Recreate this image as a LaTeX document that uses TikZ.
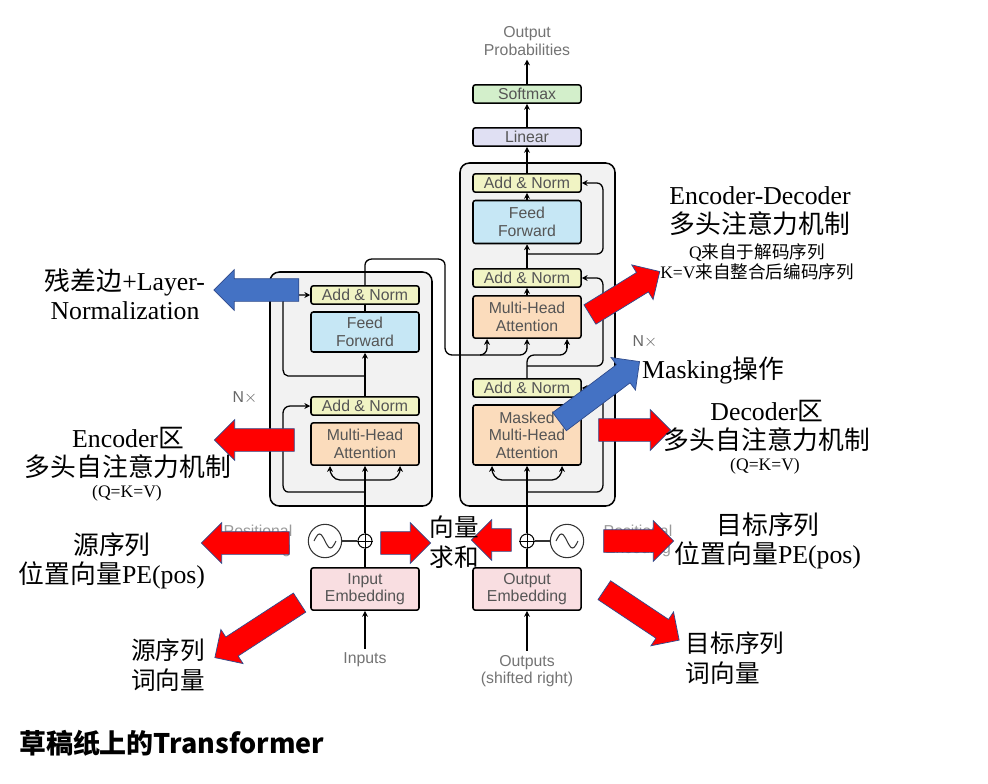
\documentclass[tikz,border=0pt]{standalone}
\usepackage{fontspec}
\setmainfont{Liberation Serif}
\newfontfamily\dsans{Liberation Sans}
\newfontfamily\cjk{Noto Sans CJK SC}
\usetikzlibrary{shapes.arrows,arrows.meta,calc}
\definecolor{an}{HTML}{F1F4C4}
\definecolor{ff}{HTML}{C6E7F5}
\definecolor{mh}{HTML}{FBDCBC}
\definecolor{em}{HTML}{F9DEE1}
\definecolor{li}{HTML}{E0E0F3}
\definecolor{sm}{HTML}{D3EFCB}
\definecolor{bg}{HTML}{F2F2F2}
\definecolor{ared}{HTML}{FF0000}
\definecolor{ablue}{HTML}{4472C4}
\definecolor{aout}{HTML}{2F4B8C}
\definecolor{tx}{HTML}{555555}
\begin{document}
\begin{tikzpicture}[x=0.03cm,y=-0.03cm,
 blk/.style={draw=black,line width=1.3pt,rounded corners=2pt,minimum width=3.24cm,inner sep=0,font=\dsans\fontsize{13.5}{15}\selectfont,text=tx,align=center},
 thin/.style={blk,minimum height=0.55cm},
 big/.style={blk,minimum height=1.27cm},
 frame/.style={draw=black,line width=1.3pt,fill=bg,rounded corners=8pt},
 conn/.style={line width=1.1pt,-{Stealth[length=5pt,width=5pt]}},
 line/.style={line width=1.1pt},
 barr/.style={single arrow,draw=aout,line width=0.6pt,inner xsep=0pt,inner ysep=0.33cm,single arrow head extend=0.27cm,single arrow head indent=0pt},
 red/.style={barr,fill=ared},
 blue/.style={barr,fill=ablue},
 lab/.style={font=\fontsize{22}{25}\selectfont,align=center},
 sml/.style={font=\fontsize{15}{17}\selectfont,align=center},
 gry/.style={font=\dsans\fontsize{13.5}{15}\selectfont,text=tx,align=center}]
\useasboundingbox (0,0) rectangle (988,783);
% frames
\draw[frame] (270,272) rectangle (432,506);
\draw[frame] (460,163) rectangle (615,506);
% encoder
\node[thin,fill=an] (ean2) at (365,295) {Add \& Norm};
\node[big,fill=ff,minimum height=1.2cm] (eff) at (365,332) {Feed\\Forward};
\node[thin,fill=an] (ean1) at (365,406) {Add \& Norm};
\node[big,fill=mh] (emh) at (365,444) {Multi-Head\\Attention};
% decoder
\node[thin,fill=an] (dan3) at (527,183) {Add \& Norm};
\node[big,fill=ff,minimum height=1.29cm] (dff) at (527,222) {Feed\\Forward};
\node[thin,fill=an] (dan2) at (527,278) {Add \& Norm};
\node[big,fill=mh] (dmh) at (527,317) {Multi-Head\\Attention};
\node[thin,fill=an] (dan1) at (527,388) {Add \& Norm};
\node[big,fill=mh,minimum height=1.8cm] (dmm) at (527,435) {Masked\\Multi-Head\\Attention};
\node[thin,fill=li] (lin) at (527,137) {Linear};
\node[thin,fill=sm] (soft) at (527,94) {Softmax};
\node[gry,text=black!55] (oprob) at (527,41) {Output\\Probabilities};
% embeddings
\node[big,fill=em] (iemb) at (365,589) {Input\\Embedding};
\node[big,fill=em] (oemb) at (527,589) {Output\\Embedding};
\node[gry,text=black!55] (inp) at (365,660) {Inputs};
\node[gry,text=black!55] (outp) at (527,671) {Outputs\\(shifted right)};
\node[draw=black,line width=0.9pt,circle,minimum size=0.42cm,inner sep=0,fill=white] (eplus) at (365,541) {};
\draw[line width=0.8pt] (eplus.north)--(eplus.south) (eplus.west)--(eplus.east);
\node[draw=black,line width=0.9pt,circle,minimum size=0.42cm,inner sep=0,fill=white] (dplus) at (527,541) {};
\draw[line width=0.8pt] (dplus.north)--(dplus.south) (dplus.west)--(dplus.east);
\node[draw=black!80,line width=0.9pt,circle,minimum size=1.0cm,inner sep=0] (esin) at (325,541) {};
\draw[line width=0.9pt,black!80] ($(esin.center)+(-11,0)$) sin ($(esin.center)+(-5.5,-7)$) cos ($(esin.center)+(0,0)$) sin ($(esin.center)+(5.5,7)$) cos ($(esin.center)+(11,0)$);
\node[draw=black!80,line width=0.9pt,circle,minimum size=1.0cm,inner sep=0] (dsin) at (567,541) {};
\draw[line width=0.9pt,black!80] ($(dsin.center)+(-11,0)$) sin ($(dsin.center)+(-5.5,-7)$) cos ($(dsin.center)+(0,0)$) sin ($(dsin.center)+(5.5,7)$) cos ($(dsin.center)+(11,0)$);
\draw[line,black!80] (esin)--(eplus);
\draw[line,black!80] (dsin)--(dplus);
\node[gry,text=black!40] (epe) at (258,541) {Positional\\Encoding};
\node[gry,text=black!40] (dpe) at (638,541) {Positional\\Encoding};
\node[gry,text=black!60] (enx) at (245,398) {N$\times$};
\node[gry,text=black!60] (dnx) at (645,342) {N$\times$};
% encoder connectors
\draw[conn] (inp.north)--(iemb.south);
\draw[line] (iemb.north)--(eplus.south);
\draw[conn] (eplus.north)--(emh.south);
\draw[conn] (365,480) -- (340,480) to[out=180,in=-90] (330,466);
\draw[conn] (365,480) -- (390,480) to[out=0,in=-90] (400,466);
\draw[conn] (365,492) -- (288,492) to[out=180,in=-90] (283,485) -- (283,413) to[out=90,in=180] (290,406) -- (ean1.west);
\draw[conn] (ean1.north)--(eff.south);
\draw[conn] (365,376) -- (288,376) to[out=180,in=-90] (283,370) -- (283,302) to[out=90,in=180] (290,295) -- (ean2.west);
\draw[line] (eff.north)--(ean2.south);
\draw[conn] (ean2.north) -- (365,265) to[out=90,in=180] (372,259) -- (438,259) to[out=0,in=90] (445,265) -- (445,348) to[out=-90,in=180] (452,355) -- (480,355) to[out=0,in=-90] (487,348) -- (487,339);
\draw[conn] (480,355) -- (520,355) to[out=0,in=-90] (527,348) -- (527,339);
% decoder connectors
\draw[conn] (outp.north)--(oemb.south);
\draw[line] (oemb.north)--(dplus.south);
\draw[conn] (dplus.north)--(dmm.south);
\draw[conn] (527,480) -- (502,480) to[out=180,in=-90] (492,466);
\draw[conn] (527,480) -- (552,480) to[out=0,in=-90] (562,466);
\draw[conn] (527,492) -- (597,492) to[out=0,in=-90] (603,485) -- (603,395) to[out=90,in=0] (597,388) -- (dan1.east);
\draw[line] (dan1.north) -- (527,362) to[out=90,in=180] (534,355) -- (560,355) to[out=0,in=-90] (567,348);
\draw[conn] (567,348) -- (567,339);
\draw[conn] (527,366) -- (597,366) to[out=0,in=-90] (603,360) -- (603,285) to[out=90,in=0] (597,278) -- (dan2.east);
\draw[conn] (dmh.north)--(dan2.south);
\draw[conn] (dan2.north)--(dff.south);
\draw[conn] (527,254) -- (597,254) to[out=0,in=-90] (603,248) -- (603,190) to[out=90,in=0] (597,183) -- (dan3.east);
\draw[conn] (dff.north)--(dan3.south);
\draw[conn] (dan3.north)--(lin.south);
\draw[conn] (lin.north)--(soft.south);
\draw[conn] (soft.north)--(oprob.south);
% block arrows
\node[blue,minimum height=2.55cm,rotate=180] (a1) at (262,290) {};
\node[red,minimum height=2.4cm,rotate=180] (a2) at (260,440) {};
\node[red,minimum height=2.64cm,rotate=180] (a3) at (251,543) {};
\node[red,minimum height=1.5cm] (a4) at (400,543) {};
\node[red,minimum height=1.2cm,rotate=180] (a5) at (497,540) {};
\node[red,minimum height=2.1cm] (a6) at (633,541) {};
\node[red,minimum height=3.03cm,rotate=213] (a7) at (262,627) {};
\node[red,minimum height=2.7cm,rotate=-33.7] (a8) at (637,612) {};
\node[red,minimum height=2.46cm,rotate=31.6] (a9) at (620,296) {};
\node[blue,minimum height=3.0cm,rotate=36.9] (a10) at (595,395) {};
\node[red,minimum height=2.16cm] (a11) at (629,430) {};
% annotations
\node[lab] (t1) at (125,294) {{\cjk 残差边}+Layer-\\Normalization};
\node[lab] (t2) at (760,211) {Encoder-Decoder\\{\cjk 多头注意力机制}};
\node[sml] (t3) at (757,262) {Q{\cjk 来自于解码序列}\\K=V{\cjk 来自整合后编码序列}};
\node[lab,anchor=west] (t4) at (638,370) {Masking{\cjk 操作}};
\node[lab] (t5) at (767,426) {Decoder{\cjk 区}\\{\cjk 多头自注意力机制}};
\node[sml] (t6) at (765,466) {(Q=K=V)};
\node[lab] (t7) at (128,453) {Encoder{\cjk 区}\\{\cjk 多头自注意力机制}};
\node[sml] (t8) at (127,493) {(Q=K=V)};
\node[lab,font=\cjk\fontsize{21}{25}\selectfont] (t9) at (454,542) {向量\\求和};
\node[lab] (t10) at (112,561) {{\cjk 源序列}\\{\cjk 位置向量}PE(pos)};
\node[lab] (t11) at (768,541) {{\cjk 目标序列}\\{\cjk 位置向量}PE(pos)};
\node[lab,font=\cjk\fontsize{21}{25}\selectfont] (t12) at (168,665) {源序列\\词向量};
\node[lab,font=\cjk\fontsize{21}{25}\selectfont,align=left] (t13) at (735,658) {目标序列\\词向量};
\node[anchor=west,font=\cjk\bfseries\fontsize{23}{26}\selectfont] (t14) at (15,743) {草稿纸上的Transformer};
\end{tikzpicture}
\end{document}
